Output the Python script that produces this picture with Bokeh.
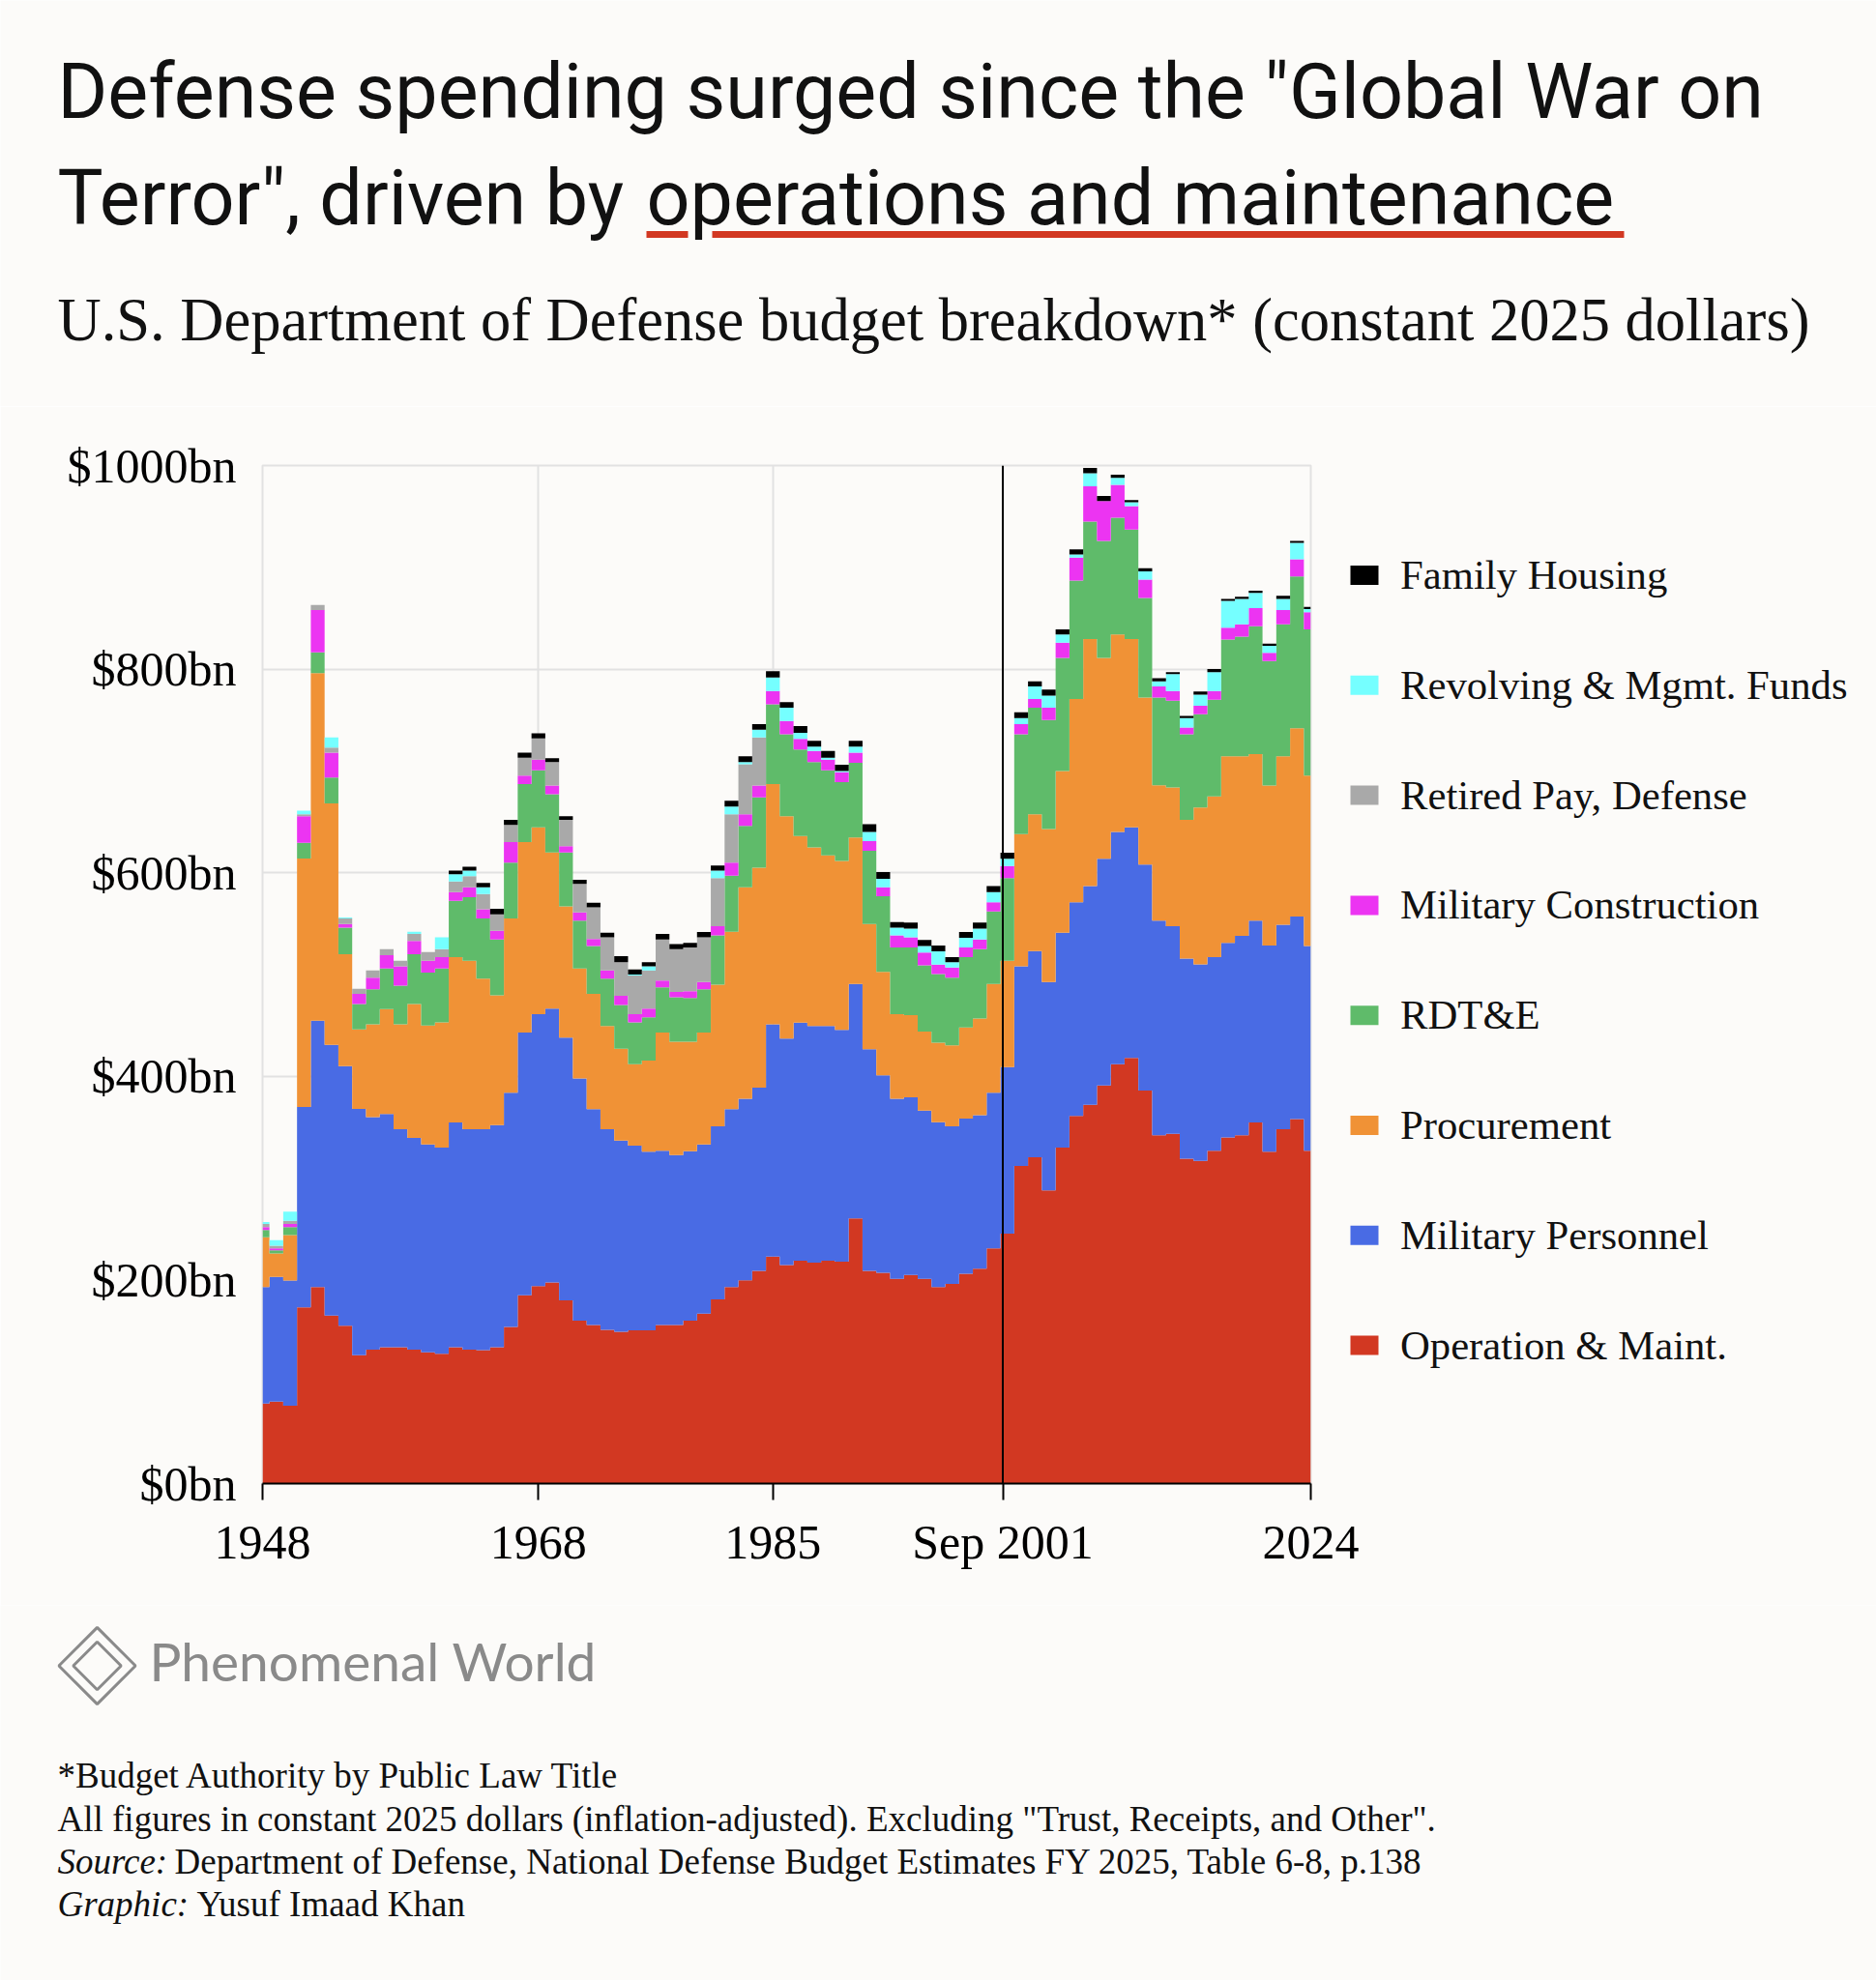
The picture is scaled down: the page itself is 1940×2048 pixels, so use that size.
import math
from bokeh.plotting import figure
from bokeh.layouts import column, row
from bokeh.models import ColumnDataSource, Range1d, FixedTicker, PrintfTickFormatter, Span
from bokeh.transform import stack
from bokeh.core.properties import value
from bokeh.embed import file_html
from bokeh.resources import INLINE

# ---------------------------------------------------------------- data (bn, constant 2025 dollars)
years = list(range(1948, 2025))

operation_maint = [
    78.5, 80.5, 76.5, 173, 193, 165, 155, 126, 131.5, 134,
    134, 131.5, 129, 127.6, 134, 131.5, 131, 134, 153.8, 185,
    194, 197.6, 180, 160, 155.7, 151, 149, 150.5, 150.5, 155.7,
    155.7, 160, 166.8, 181, 193, 199.6, 209, 223, 214.6, 219,
    217, 219, 218, 260.4, 209, 207, 201, 204.8, 201, 193,
    196, 206, 211, 231, 245.4, 312, 320.6, 288, 330, 361,
    372, 391, 412, 418, 386, 342, 343.5, 319, 317, 327,
    340, 342, 354.6, 326, 348, 358, 327]
military_personnel = [
    114.5, 122.5, 123, 197, 261.7, 266, 255, 242, 228.5, 229,
    214, 208.1, 204, 202.4, 220.6, 216.5, 217, 218, 230.2, 258,
    267, 268.9, 258, 238, 212, 197, 188, 181.5, 175.5, 171.3,
    166.9, 166.5, 166.2, 170, 174.7, 178.4, 180, 228, 222.4, 233.7,
    232.5, 230.5, 227.6, 230.3, 217.6, 194, 177, 174.7, 165.4, 162,
    155, 152.5, 150.8, 153, 163.6, 196, 202.4, 204.7, 211, 210,
    215, 222.7, 228, 226.5, 222, 211, 204.1, 196.6, 193, 190,
    191, 196, 198.4, 202.6, 201, 199, 201]
procurement = [
    49, 23, 44.5, 244, 341.3, 237, 110, 78, 91, 103,
    103, 131.4, 117, 123, 162.4, 165.6, 148, 127.6, 171, 187,
    183.5, 153.5, 129, 108, 113.3, 101.5, 90, 80, 89.5, 116,
    111.4, 107.5, 110, 139, 174.3, 207.6, 216, 236, 218.6, 183.3,
    175.5, 167.5, 166.1, 143.9, 123, 101.5, 83, 80.5, 77.6, 78,
    79.5, 89.5, 94.9, 106.7, 104.6, 130, 134.5, 150.3, 159, 199.7,
    242.6, 197.3, 194, 185.1, 164, 133, 136.1, 136.4, 154, 158,
    183.5, 176.5, 163.5, 157.1, 165.5, 185, 167.5]
rdte = [
    7, 3, 8, 15.5, 20.5, 25.5, 26, 25, 34.5, 40,
    38, 49, 52, 53, 55.5, 62.4, 59, 54.9, 55, 57,
    56.2, 57, 53, 47, 47, 46.5, 43, 41, 42.5, 44.5,
    43.6, 43, 42.5, 48.5, 55, 60.4, 69, 78.5, 80.4, 85,
    83.6, 83.7, 77.3, 73.4, 72, 74.5, 65.7, 66.7, 65, 67.5,
    66.5, 69, 68.3, 71.3, 81.1, 98, 104.5, 107, 111, 116.3,
    115.4, 115, 114.7, 107.4, 98, 86, 85.3, 84, 91.6, 95,
    114.5, 117.5, 125.5, 122.3, 129.5, 149, 143.5]
military_construction = [
    3, 2, 3, 26, 41.5, 24.5, 3.6, 10, 11.5, 13,
    19, 13, 11.6, 11, 8.5, 9.6, 9, 8.5, 20, 8.5,
    10.3, 8.7, 6, 8, 7, 8, 9, 8, 8.5, 6.5,
    5.4, 6.5, 7.2, 9.1, 13, 11.5, 11.7, 13.1, 13, 10.5,
    11.1, 10.3, 9.7, 10, 9.4, 8.6, 11.8, 9.8, 12.5, 9.2,
    10, 9.7, 9.5, 9, 11.8, 10, 8.7, 12, 15, 22.5,
    34.5, 39, 32.3, 23, 18, 11, 9.6, 6.6, 8.4, 8.6,
    11.7, 12, 18, 8, 14, 17, 16.8]
retired_pay = [
    3, 2.6, 3, 2, 5, 5, 5.4, 5, 7, 6,
    5.6, 7, 8.4, 8, 10.5, 11.1, 15, 16, 17, 17.5,
    21, 22.9, 26, 28, 31, 32.5, 33, 38, 37.5, 40.5,
    42, 43.2, 43.8, 47.1, 47.5, 49.1, 47.3, 0, 0, 0,
    0, 0, 0, 0, 0, 0, 0, 0, 0, 0,
    0, 0, 0, 0, 0, 0, 0, 0, 0, 0,
    0, 0, 0, 0, 0, 0, 0, 0, 0, 0,
    0, 0, 0, 0, 0, 0, 0]
revolving_funds = [
    2, 5.4, 9, 3.5, 0, 10, 1, 0, 0, 0,
    0, 2, 0, 11.5, 7.1, 5.3, 6.6, 0, 0, 0,
    0, 0, 0, 0, 0, 0, 0, 1, 4, 0,
    0, 0, 0, 7.3, 7.5, 2, 7.6, 13.1, 13, 6,
    4.3, 2, 1.3, 6, 9, 8.4, 7.5, 8.5, 6.5, 13,
    5, 9.3, 10.5, 10, 7.2, 6, 12.3, 12, 8, 3.2,
    13, 0, 7, 4, 8, 5, 16.4, 9.4, 11, 18.4,
    26.3, 25, 15, 7, 11, 16, 3.2]
family_housing = [
    0, 0, 0, 0, 0, 0, 0, 0, 0, 0,
    0, 0, 0, 0, 3.4, 4, 4.4, 5.6, 5, 5,
    5, 3.9, 3.6, 4, 4.5, 4.5, 6, 5, 4, 5.5,
    5, 4.3, 5.2, 5, 5.6, 5.9, 5.4, 6.3, 5.5, 6.5,
    5.5, 6.7, 6, 5.5, 7.7, 6.6, 5.5, 6, 6, 5.9,
    5, 5.7, 6, 6, 5.9, 5.6, 5, 6, 5, 4.8,
    5.2, 5, 3, 2, 3, 3, 2, 2, 3, 3,
    2, 2, 2, 2, 3, 2, 2]

# stacking order, bottom to top
series_keys = ["om", "mp", "proc", "rdte", "milcon", "retired", "revolving", "housing"]
series_labels = ["Operation & Maint.", "Military Personnel", "Procurement", "RDT&E",
                 "Military Construction", "Retired Pay, Defense", "Revolving & Mgmt. Funds",
                 "Family Housing"]
series_colors = ["#d23822", "#496be4", "#f09236", "#5fbb6a", "#ec34f2", "#a9a9a9", "#75ffff", "#000000"]
series_values = [operation_maint, military_personnel, procurement, rdte,
                 military_construction, retired_pay, revolving_funds, family_housing]

y_ticks = [0, 200, 400, 600, 800, 1000]
x_ticks = [1948, 1968, 1985, 2001.67, 2024]
x_tick_labels = ["1948", "1968", "1985", "Sep 2001", "2024"]
event_year = 2001.67

title_line1 = "Defense spending surged since the \"Global War on"
title_line2a = "Terror\", driven by"
title_line2b = "operations and maintenance"
subtitle = "U.S. Department of Defense budget breakdown* (constant 2025 dollars)"
notes = [
    ("", "*Budget Authority by Public Law Title"),
    ("", "All figures in constant 2025 dollars (inflation-adjusted). Excluding \"Trust, Receipts, and Other\"."),
    ("Source:", "Department of Defense, National Defense Budget Estimates FY 2025, Table 6-8, p.138"),
    ("Graphic:", "Yusuf Imaad Khan"),
]
brand = "Phenomenal World"

# ---------------------------------------------------------------- styling
BG = "#fcfbf9"
INK = "#111111"
ACCENT = "#d23822"
GRID = "#e2e2e2"
SERIF = "Liberation Serif"
SANS = "Roboto"
W, H = 1940, 2048
HEADER_H = 420          # page rows: header | chart (+ legend overlaid on its right border) | footer
ROW_BOTTOM = 1660
FRAME_LEFT, FRAME_RIGHT = 271, 1355
FRAME_TOP, FRAME_BOTTOM = 481, 1534
LEGEND_X0 = 1390

# distance from the middle of a line of text to its baseline, in em
MID_TO_BASE = {SANS: 0.35, SERIF: 0.345, "Lato": 0.40}


def blank(width, height, xr, yr, fill=BG, **borders):
    f = figure(width=width, height=height, x_range=Range1d(*xr), y_range=Range1d(*yr),
               output_backend="svg", toolbar_location=None, min_border=0,
               x_axis_location=None, y_axis_location=None, **borders)
    f.grid.visible = False
    f.outline_line_color = None
    f.background_fill_color = fill
    f.border_fill_color = fill
    return f


def put_text(f, x, baseline, s, font, px, color=INK, style="normal"):
    y = baseline - MID_TO_BASE[font] * px
    f.text(x=[x], y=[y], text=[s], text_font=value(font), text_font_size=value(f"{px}px"),
           text_color=color, text_font_style=style, text_align="left", text_baseline="middle")


# ---------------------------------------------------------------- header (page coordinates)
header = blank(W, HEADER_H, (0, W), (HEADER_H, 0))
put_text(header, 59, 122, title_line1, SANS, 79)
put_text(header, 59, 232, title_line2a, SANS, 79)
put_text(header, 668, 232, title_line2b, SANS, 79)
header.segment(x0=[668, 736], y0=[242, 242], x1=[711, 1679], y1=[242, 242],
               line_color=ACCENT, line_width=7)
put_text(header, 59, 352, subtitle, SERIF, 62.5)

# ---------------------------------------------------------------- chart
ROW_H = ROW_BOTTOM - HEADER_H
border_top = FRAME_TOP - HEADER_H
border_bottom = ROW_BOTTOM - FRAME_BOTTOM
src = ColumnDataSource(dict(year=years, **{k: v for k, v in zip(series_keys, series_values)}))

chart = figure(width=W, height=ROW_H, x_range=Range1d(1948, 2024), y_range=Range1d(0, 1000),
               output_backend="svg", toolbar_location=None,
               min_border_left=FRAME_LEFT, min_border_right=W - FRAME_RIGHT,
               min_border_top=border_top, min_border_bottom=border_bottom)
chart.background_fill_color = BG
chart.border_fill_color = BG
chart.outline_line_color = GRID
chart.outline_line_width = 2

for i, (key, color) in enumerate(zip(series_keys, series_colors)):
    lower = stack(*series_keys[:i]) if i > 0 else 0
    chart.varea_step(x="year", y1=lower, y2=stack(*series_keys[:i + 1]), step_mode="center",
                     source=src, fill_color=color)

chart.add_layout(Span(location=event_year, dimension="height", line_color="black", line_width=2))

chart.xgrid.ticker = FixedTicker(ticks=x_ticks)
chart.ygrid.ticker = FixedTicker(ticks=y_ticks)
chart.grid.grid_line_color = GRID
chart.grid.grid_line_width = 2

xa = chart.xaxis[0]
xa.ticker = FixedTicker(ticks=x_ticks)
xa.major_label_overrides = {t: s for t, s in zip(x_ticks, x_tick_labels)}
xa.axis_line_color = "black"
xa.axis_line_width = 2
xa.major_tick_line_color = "black"
xa.major_tick_line_width = 2
xa.major_tick_out = 17
xa.major_tick_in = 0
xa.minor_tick_line_color = None
xa.major_label_text_font = SERIF
xa.major_label_text_font_size = "50px"
xa.major_label_text_color = "black"
xa.major_label_standoff = 15

ya = chart.yaxis[0]
ya.ticker = FixedTicker(ticks=y_ticks)
ya.formatter = PrintfTickFormatter(format="$%dbn")
ya.axis_line_color = None
ya.major_tick_line_color = None
ya.minor_tick_line_color = None
ya.major_tick_out = 0
ya.major_tick_in = 0
ya.major_label_text_font = SERIF
ya.major_label_text_font_size = "50px"
ya.major_label_text_color = "black"
ya.major_label_standoff = 27

# ---------------------------------------------------------------- legend: transparent panel laid over the
# chart's right border (page coordinates, entries top to bottom)
legend = blank(W - LEGEND_X0, ROW_H, (LEGEND_X0, W), (FRAME_BOTTOM, FRAME_TOP), fill=None,
               min_border_top=border_top, min_border_bottom=border_bottom)
legend.margin = (0, 0, 0, -(W - LEGEND_X0))
first_row, row_gap = 594.5, 113.8
for j, k in enumerate(reversed(range(len(series_keys)))):
    cy = first_row + j * row_gap
    legend.rect(x=[1410.5], y=[cy], width=29, height=20, fill_color=series_colors[k], line_color=None)
    put_text(legend, 1447.5, cy + 14.2, series_labels[k], SERIF, 42.7)

# ---------------------------------------------------------------- footer (page coordinates)
footer = blank(W, H - ROW_BOTTOM, (0, W), (H, ROW_BOTTOM))
footer.scatter(x=[100, 100], y=[1722.5, 1722.5], size=[56, 35], marker="square", angle=math.pi / 4,
               fill_color=None, line_color="#8a8a8a", line_width=3)
put_text(footer, 154, 1739, brand, "Lato", 55, color="#8a8a8a")

note_base, note_gap = 1849, 44.3
for n, (lead, body) in enumerate(notes):
    y = note_base + n * note_gap
    if lead:
        put_text(footer, 59, y, lead, SERIF, 37, style="italic")
        put_text(footer, 180 if lead == "Source:" else 203, y, body, SERIF, 37)
    else:
        put_text(footer, 59, y, body, SERIF, 37)

page = column(header, row(chart, legend), footer, spacing=0)
open("out.html", "w").write(file_html(page, INLINE))
